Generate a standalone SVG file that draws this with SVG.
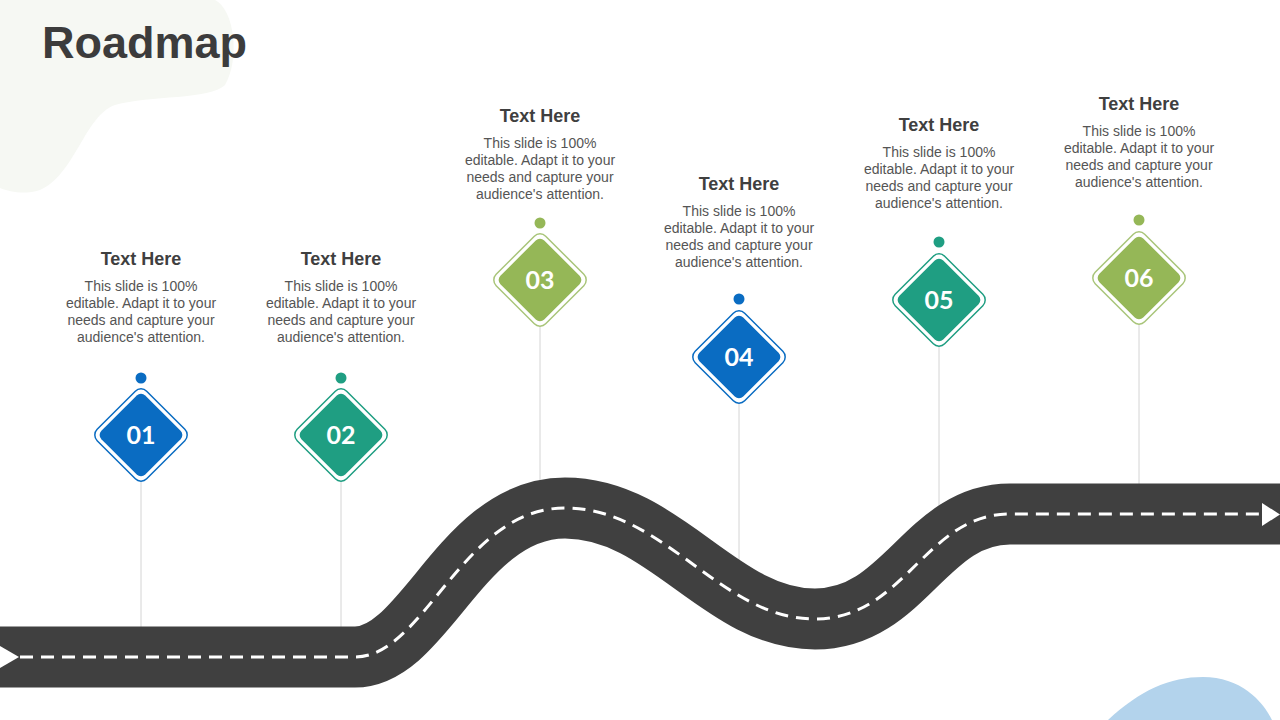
<svg xmlns="http://www.w3.org/2000/svg" width="1280" height="720" viewBox="0 0 1280 720">
<defs>
<style>
.title{font-family:"Liberation Sans",Arial,sans-serif;font-weight:bold;font-size:45px;fill:#3c3c3c}
.h{font-family:"Liberation Sans",Arial,sans-serif;font-weight:bold;font-size:18px;fill:#3f3f3f;text-anchor:middle}
.b{font-family:"Liberation Sans",Arial,sans-serif;font-size:14px;fill:#555555;text-anchor:middle}
.num{font-family:Lato,"Open Sans",sans-serif;font-weight:bold;font-size:25px;fill:#ffffff;text-anchor:middle}
.pole{stroke:#d4d4d4;stroke-width:1;fill:none}
.road{stroke:#404040;stroke-width:61;fill:none}
.dash{stroke:#ffffff;stroke-width:3;fill:none;stroke-dasharray:13 8}
.blue{fill:#0a6cc2}.blueO{fill:#ffffff;stroke:#0a6cc2;stroke-width:1.5}
.teal{fill:#1f9e82}.tealO{fill:#ffffff;stroke:#1f9e82;stroke-width:1.5}
.green{fill:#95b757}.greenO{fill:#ffffff;stroke:#a9c57a;stroke-width:1.5}
</style>
</defs>
<rect width="1280" height="720" fill="#ffffff"/>
<path d="M0 0 H215 C235 10 240 60 225 85 C210 100 150 95 115 105 C85 115 75 175 40 190 C25 195 10 192 0 188 Z" fill="#f6f8f3"/>
<path d="M1108 720 C1140 690 1170 677 1203 677 C1240 677 1262 700 1272 720 Z" fill="#b3d3ec"/>
<text class="title" x="42" y="58">Roadmap</text>

<g id="connectors">
<line class="pole" x1="141" y1="480" x2="141" y2="657"/>
<line class="pole" x1="341" y1="480" x2="341" y2="657"/>
<line class="pole" x1="540" y1="325" x2="540" y2="510"/>
<line class="pole" x1="739" y1="402" x2="739" y2="580"/>
<line class="pole" x1="939" y1="345" x2="939" y2="540"/>
<line class="pole" x1="1139" y1="323" x2="1139" y2="514"/>
</g>

<g id="road">
<path class="road" d="M-5 657 H355 C425 657 462 508 565 508 C665 508 720 619 815 619 C905 619 925 514 1010 514 H1285"/>
<path class="dash" d="M20 657 H355 C425 657 462 508 565 508 C665 508 720 619 815 619 C905 619 925 514 1010 514 H1262"/>
<polygon points="0,646 19,657 0,668" fill="#ffffff"/>
<polygon points="1262,503 1280,514.5 1262,526" fill="#ffffff"/>
</g>

<g id="step1">
<text class="h" x="141" y="265">Text Here</text>
<text class="b" x="141" y="291">This slide is 100%</text>
<text class="b" x="141" y="308">editable. Adapt it to your</text>
<text class="b" x="141" y="325">needs and capture your</text>
<text class="b" x="141" y="342">audience's attention.</text>
<circle cx="141" cy="378" r="5.5" class="blue"/>
<g transform="translate(141 435) rotate(45)"><rect x="-35" y="-35" width="70" height="70" rx="8" class="blueO"/><rect x="-31" y="-31" width="62" height="62" rx="6" class="blue"/></g>
<text class="num" x="141" y="444">01</text>
</g>

<g id="step2">
<text class="h" x="341" y="265">Text Here</text>
<text class="b" x="341" y="291">This slide is 100%</text>
<text class="b" x="341" y="308">editable. Adapt it to your</text>
<text class="b" x="341" y="325">needs and capture your</text>
<text class="b" x="341" y="342">audience's attention.</text>
<circle cx="341" cy="378" r="5.5" class="teal"/>
<g transform="translate(341 435) rotate(45)"><rect x="-35" y="-35" width="70" height="70" rx="8" class="tealO"/><rect x="-31" y="-31" width="62" height="62" rx="6" class="teal"/></g>
<text class="num" x="341" y="444">02</text>
</g>

<g id="step3">
<text class="h" x="540" y="122">Text Here</text>
<text class="b" x="540" y="148">This slide is 100%</text>
<text class="b" x="540" y="165">editable. Adapt it to your</text>
<text class="b" x="540" y="182">needs and capture your</text>
<text class="b" x="540" y="199">audience's attention.</text>
<circle cx="540" cy="223" r="5.5" class="green"/>
<g transform="translate(540 280) rotate(45)"><rect x="-35" y="-35" width="70" height="70" rx="8" class="greenO"/><rect x="-31" y="-31" width="62" height="62" rx="6" class="green"/></g>
<text class="num" x="540" y="289">03</text>
</g>

<g id="step4">
<text class="h" x="739" y="190">Text Here</text>
<text class="b" x="739" y="216">This slide is 100%</text>
<text class="b" x="739" y="233">editable. Adapt it to your</text>
<text class="b" x="739" y="250">needs and capture your</text>
<text class="b" x="739" y="267">audience's attention.</text>
<circle cx="739" cy="299" r="5.5" class="blue"/>
<g transform="translate(739 357) rotate(45)"><rect x="-35" y="-35" width="70" height="70" rx="8" class="blueO"/><rect x="-31" y="-31" width="62" height="62" rx="6" class="blue"/></g>
<text class="num" x="739" y="366">04</text>
</g>

<g id="step5">
<text class="h" x="939" y="131">Text Here</text>
<text class="b" x="939" y="157">This slide is 100%</text>
<text class="b" x="939" y="174">editable. Adapt it to your</text>
<text class="b" x="939" y="191">needs and capture your</text>
<text class="b" x="939" y="208">audience's attention.</text>
<circle cx="939" cy="242" r="5.5" class="teal"/>
<g transform="translate(939 300) rotate(45)"><rect x="-35" y="-35" width="70" height="70" rx="8" class="tealO"/><rect x="-31" y="-31" width="62" height="62" rx="6" class="teal"/></g>
<text class="num" x="939" y="309">05</text>
</g>

<g id="step6">
<text class="h" x="1139" y="110">Text Here</text>
<text class="b" x="1139" y="136">This slide is 100%</text>
<text class="b" x="1139" y="153">editable. Adapt it to your</text>
<text class="b" x="1139" y="170">needs and capture your</text>
<text class="b" x="1139" y="187">audience's attention.</text>
<circle cx="1139" cy="220" r="5.5" class="green"/>
<g transform="translate(1139 278) rotate(45)"><rect x="-35" y="-35" width="70" height="70" rx="8" class="greenO"/><rect x="-31" y="-31" width="62" height="62" rx="6" class="green"/></g>
<text class="num" x="1139" y="287">06</text>
</g>
</svg>
